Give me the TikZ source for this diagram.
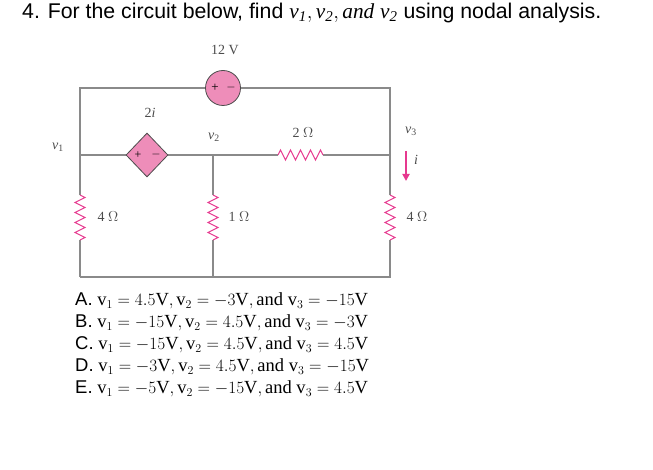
\documentclass[tikz,border=0pt]{standalone}
\usepackage{fontspec}
\setmainfont{Liberation Serif}
\newfontfamily\arialf{Liberation Sans}
\usetikzlibrary{decorations.pathmorphing,arrows.meta,shapes.geometric}
\definecolor{pk}{HTML}{E6398F}
\definecolor{pkf}{HTML}{EE8DB9}
\definecolor{wire}{HTML}{8A8A8A}
\newcommand{\vv}[1]{\mathrm{v}_{#1}}
\tikzset{
  w/.style={draw=wire,line width=1.3pt},
  res/.style={draw=pk,line width=1pt,decorate,decoration={zigzag,segment length=10pt,amplitude=5pt}},
  lbl/.style={font=\fontsize{14}{15}\selectfont,text=black!70},
  ans/.style={anchor=west,font=\fontsize{18.5}{20}\selectfont,inner sep=0pt}
}
\begin{document}
\begin{tikzpicture}[x=1pt,y=-1pt]
\useasboundingbox (0,0) rectangle (653,470);
\node[anchor=west,font=\arialf\fontsize{21.3}{24}\selectfont,inner sep=0pt] (title) at (22,13) {4. For the circuit below, find $\mathit{v_1, v_2, and\ v_2}$ using nodal analysis.};
% nodes
\coordinate (TL) at (80,88); \coordinate (TR) at (390,88);
\coordinate (ML) at (80,155); \coordinate (MM) at (213,155); \coordinate (MR) at (390,155);
\coordinate (BL) at (80,277); \coordinate (BM) at (213,277); \coordinate (BR) at (390,277);
\coordinate (r1a) at (80,195); \coordinate (r1b) at (80,240);
\coordinate (r2a) at (213,195); \coordinate (r2b) at (213,240);
\coordinate (r3a) at (390,195); \coordinate (r3b) at (390,240);
\coordinate (r4a) at (278,155); \coordinate (r4b) at (323,155);
% wires
\draw[w] (BL) -- (r1b) (r1a) -- (ML) -- (TL) -- (TR) -- (MR) -- (r3a) (r3b) -- (BR) -- (BL);
\draw[w] (ML) -- (MM) -- (r4a) (r4b) -- (MR);
\draw[w] (MM) -- (r2a) (r2b) -- (BM);
\draw[res] (r1a) -- (r1b);
\draw[res] (r2a) -- (r2b);
\draw[res] (r3a) -- (r3b);
\draw[res] (r4a) -- (r4b);
% voltage source
\node[circle,draw=black!70,fill=pkf,line width=0.8pt,minimum size=35pt,inner sep=0pt] (vs) at (223,88) {};
\node[font=\fontsize{13}{13}\selectfont] (vsp) at (215,88) {+};
\node[font=\fontsize{13}{13}\selectfont] (vsm) at (231,88) {$-$};
% dependent source
\node[diamond,draw=black!70,fill=pkf,line width=0.8pt,minimum width=42pt,minimum height=44pt,inner sep=0pt,shape aspect=1] (ds) at (147,155) {};
\node[font=\fontsize{12}{12}\selectfont] (dsp) at (138,155) {+};
\node[font=\fontsize{12}{12}\selectfont] (dsm) at (156,155) {$-$};
% arrow
\coordinate (ia) at (406,151); \coordinate (ib) at (406,181);
\draw[pk,line width=2pt,-{Triangle[length=7pt,width=7pt]}] (ia) -- (ib);
% labels
\node[lbl] (l12) at (225,50) {12 V};
\node[lbl] (l2i) at (150,113) {2\textit{i}};
\node[lbl] (lv1) at (58,147) {\textit{v}\textsubscript{1}};
\node[lbl] (lv2) at (214,137) {\textit{v}\textsubscript{2}};
\node[lbl] (lv3) at (411,131) {\textit{v}\textsubscript{3}};
\node[lbl] (l2o) at (303,133) {2 $\Omega$};
\node[lbl] (li) at (416,160) {\textit{i}};
\node[lbl] (l4a) at (108,217) {4 $\Omega$};
\node[lbl] (l1o) at (239,217) {1 $\Omega$};
\node[lbl] (l4b) at (417,217) {4 $\Omega$};
% answers
\node[ans] (a) at (75,301) {{\arialf A.}\ $\vv1 = 4.5\mathrm{V}, \vv2 = -3\mathrm{V}, \mathrm{and}\ \vv3 = -15\mathrm{V}$};
\node[ans] (b) at (75,323) {{\arialf B.}\ $\vv1 = -15\mathrm{V}, \vv2 = 4.5\mathrm{V}, \mathrm{and}\ \vv3 = -3\mathrm{V}$};
\node[ans] (c) at (75,345) {{\arialf C.}\ $\vv1 = -15\mathrm{V}, \vv2 = 4.5\mathrm{V}, \mathrm{and}\ \vv3 = 4.5\mathrm{V}$};
\node[ans] (d) at (75,367) {{\arialf D.}\ $\vv1 = -3\mathrm{V}, \vv2 = 4.5\mathrm{V}, \mathrm{and}\ \vv3 = -15\mathrm{V}$};
\node[ans] (e) at (75,389) {{\arialf E.}\ $\vv1 = -5\mathrm{V}, \vv2 = -15\mathrm{V}, \mathrm{and}\ \vv3 = 4.5\mathrm{V}$};
\end{tikzpicture}
\end{document}
